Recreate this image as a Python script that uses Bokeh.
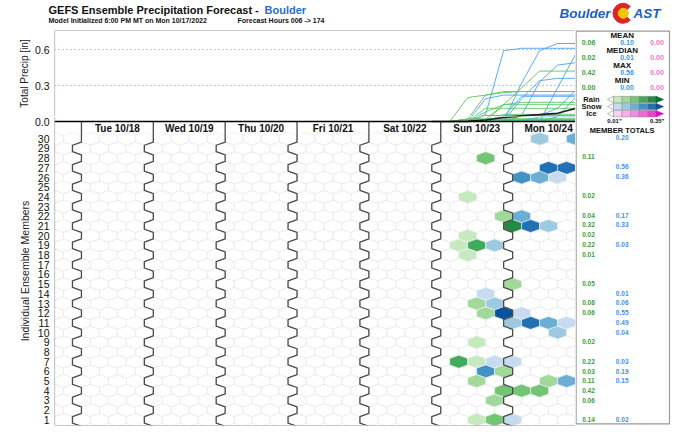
import numpy as np
from bokeh.plotting import figure
from bokeh.layouts import column, row
from bokeh.models import Range1d, FixedTicker, PrintfTickFormatter, Span, CustomJSTickFormatter
from bokeh.core.properties import value
from bokeh.embed import file_html
from bokeh.resources import INLINE

FONT = "Liberation Sans"

# ---------------- data ----------------
title_main = "GEFS Ensemble Precipitation Forecast -"
title_loc = "Boulder"
subtitle_left = "Model Initialized 6:00 PM MT on Mon 10/17/2022"
subtitle_right = "Forecast Hours 006 -> 174"

members = list(range(1, 31))
valid_hours = list(range(6, 175, 6))
day_labels = ["Tue 10/18", "Wed 10/19", "Thu 10/20", "Fri 10/21",
              "Sat 10/22", "Sun 10/23", "Mon 10/24"]
day_start_hours = [6, 30, 54, 78, 102, 126, 150]

# 6-hourly precipitation cells: member, valid hour, type, amount [in]
hex_member = [30, 30, 28, 27, 27, 26, 26, 26, 24, 22, 22, 21, 21, 21, 20,
              19, 19, 19, 18, 15, 14, 13, 13, 12, 12, 12, 11, 11, 11, 11,
              10, 9, 7, 7, 7, 7, 6, 6, 5, 5, 5, 4, 4, 4, 3, 1, 1, 1]
hex_hour = [162, 174, 144, 168, 174, 156, 162, 168, 138, 150, 156, 156, 162, 168, 138,
            138, 144, 150, 138, 156, 144, 144, 150, 144, 150, 156, 156, 162, 168, 174,
            168, 144, 138, 144, 150, 156, 144, 150, 144, 168, 174, 150, 156, 162, 150,
            144, 150, 156]
hex_type = ["snow", "snow", "rain", "snow", "snow", "snow", "snow", "snow", "rain", "rain",
            "snow", "rain", "snow", "snow", "rain", "rain", "rain", "snow", "rain", "rain",
            "snow", "rain", "snow", "rain", "snow", "snow", "snow", "snow", "snow", "snow",
            "snow", "rain", "rain", "rain", "snow", "snow", "snow", "rain", "rain", "rain",
            "snow", "rain", "rain", "rain", "rain", "rain", "rain", "snow"]
hex_amount = [0.04, 0.16, 0.11, 0.28, 0.28, 0.19, 0.15, 0.02, 0.02, 0.04,
              0.17, 0.32, 0.27, 0.06, 0.02, 0.02, 0.20, 0.03, 0.01, 0.05,
              0.01, 0.08, 0.06, 0.06, 0.53, 0.02, 0.05, 0.28, 0.14, 0.02,
              0.04, 0.02, 0.20, 0.02, 0.02, 0.01, 0.19, 0.03, 0.05, 0.06,
              0.15, 0.14, 0.14, 0.14, 0.06, 0.02, 0.12, 0.02]

# member totals (members 1..30), 0 = blank
rain_totals = [0.14, 0, 0.06, 0.42, 0.11, 0.03, 0.22, 0, 0.02, 0,
               0, 0.06, 0.08, 0, 0.05, 0, 0, 0.01, 0.22, 0.02,
               0.32, 0.04, 0, 0.02, 0, 0, 0, 0.11, 0, 0]
snow_totals = [0.02, 0, 0, 0, 0.15, 0.19, 0.03, 0, 0, 0.04,
               0.49, 0.55, 0.06, 0.01, 0, 0, 0, 0, 0.03, 0,
               0.33, 0.17, 0, 0, 0, 0.36, 0.56, 0, 0, 0.20]

stat_names = ["MEAN", "MEDIAN", "MAX", "MIN"]
stat_rain = [0.06, 0.02, 0.42, 0.00]
stat_snow = [0.10, 0.01, 0.56, 0.00]
stat_ice = [0.00, 0.00, 0.00, 0.00]

ref_hours = [126, 132, 138, 144, 150, 156, 162, 168, 174]
ref_values = [0.0, 0.0, 0.001, 0.012, 0.033, 0.047, 0.057, 0.068, 0.108]

precip_ticks = [0.3, 0.6]
grid_ticks = [0.3, 0.6]
bin_edges = [0.01, 0.025, 0.09, 0.18, 0.25, 0.35]
legend_types = ["Rain", "Snow", "Ice"]
legend_ticks = ['0.01"', '0.35"']

rain_colors = ["#c7e9c0", "#a1d99b", "#74c476", "#41ab5d", "#238b45", "#006d2c"]
snow_colors = ["#c6dbef", "#9ecae1", "#6baed6", "#4292c6", "#2171b5", "#08519c"]
ice_colors = ["#fbd0f3", "#f8b0ec", "#f48de4", "#ef69da", "#e845d0", "#e010c8"]

GREEN_TXT = "#36a336"
BLUE_TXT = "#3d93ee"
PINK_TXT = "#f277c8"
LINE_BLUE = "#4aa3f0"
LINE_GREEN = "#5cc85c"

# ---------------- geometry ----------------
PX_ROW = 9.69          # pixels per ensemble member row
PX_IN = 120.0          # pixels per inch of precip
ZERO_PX = 121          # page y of the 0.0 line
SPLIT_PX = 116         # page y where the top canvas ends
HEAD_H = 28
BOTTOM_PX = 425
Y_ZERO = 30 + (138.3 - ZERO_PX) / PX_ROW       # member units at the 0.0 line
HEX_TOP = Y_ZERO + (ZERO_PX - SPLIT_PX) / PX_ROW
Y_BOT = Y_ZERO - (BOTTOM_PX - ZERO_PX) / PX_ROW
TOP_FRAME_H = SPLIT_PX - 30
HEX_FRAME_H = BOTTOM_PX - SPLIT_PX
HEX_HW = 3.0
HEX_R = 2.0 / 3.0

x_range = Range1d(0, 174)


def hex_xy(cx, cy):
    return ([cx, cx + HEX_HW, cx + HEX_HW, cx, cx - HEX_HW, cx - HEX_HW],
            [cy + HEX_R, cy + HEX_R / 2, cy - HEX_R / 2, cy - HEX_R, cy - HEX_R / 2, cy + HEX_R / 2])


def row_shift(m):
    return -HEX_HW * (m % 2)


def style_axis(ax, label):
    ax.axis_label = label
    ax.axis_line_color = None
    ax.major_tick_line_color = None
    ax.minor_tick_line_color = None
    ax.major_tick_out = 0
    ax.major_tick_in = 0
    ax.minor_tick_out = 0
    ax.minor_tick_in = 0
    ax.major_label_text_font = FONT
    ax.major_label_text_font_size = "10.5px"
    ax.major_label_text_color = "#111111"
    ax.major_label_standoff = 5
    ax.axis_label_text_font = FONT
    ax.axis_label_text_font_style = "normal"
    ax.axis_label_text_font_size = "10.5px"
    ax.axis_label_text_color = "#222222"
    ax.axis_label_standoff = 2


# ---------------- header ----------------
head = figure(width=676, height=HEAD_H, x_range=Range1d(0, 676), y_range=Range1d(HEAD_H, 0),
              x_axis_type=None, y_axis_type=None, output_backend="svg",
              toolbar_location=None, title=None, min_border=0, outline_line_color=None)
head.grid.visible = False
head.text(x=[48], y=[9], text=[title_main], text_font=value(FONT), text_font_style="bold",
          text_font_size="11px", text_baseline="middle", text_align="left", text_color="#111111")
head.text(x=[264], y=[9], text=[title_loc], text_font=value(FONT), text_font_style="bold",
          text_font_size="11px", text_baseline="middle", text_align="left", text_color="#1f6fcf")
head.text(x=[48, 237], y=[19.5, 19.5], text=[subtitle_left, subtitle_right], text_font=value(FONT),
          text_font_style="bold", text_font_size="7px", text_baseline="middle", text_align="left",
          text_color="#111111")
head.text(x=[559], y=[13], text=["Boulder"], text_font=value(FONT), text_font_style="bold italic",
          text_font_size="13.5px", text_baseline="middle", text_align="left", text_color="#1d5fbf")
head.annular_wedge(x=[622.5], y=[12.8], inner_radius=4.8, outer_radius=10,
                   start_angle=0.75, end_angle=2 * np.pi - 0.75, color="#d9262c")
head.circle(x=[622.8], y=[12.8], radius=5, color="#f6c500")
head.text(x=[633], y=[13], text=["AST"], text_font=value(FONT), text_font_style="bold italic",
          text_font_size="13.5px", text_baseline="middle", text_align="left", text_color="#1d5fbf")

# ---------------- cumulative precip lines (data) ----------------
amt = np.zeros((len(members), len(valid_hours)))
rain_sum = np.zeros(len(members))
snow_sum = np.zeros(len(members))
for m, h, t, a in zip(hex_member, hex_hour, hex_type, hex_amount):
    amt[m - 1, valid_hours.index(h)] += a
    if t == "rain":
        rain_sum[m - 1] += a
    else:
        snow_sum[m - 1] += a
cum = amt.cumsum(axis=1)
line_cols = [LINE_BLUE if snow_sum[i] > rain_sum[i] else LINE_GREEN for i in range(len(members))]
line_xs = [valid_hours] * len(members)
line_ys = [list(c) for c in cum]

# ---------------- top: cumulative precip ----------------
p_lo = (ZERO_PX - SPLIT_PX) / PX_IN
top = figure(width=575, height=TOP_FRAME_H + 2, x_range=x_range,
             y_range=Range1d(p_lo, p_lo + TOP_FRAME_H / PX_IN),
             x_axis_type=None, output_backend="svg", toolbar_location=None, title=None,
             min_border_left=54, min_border_right=0, min_border_top=2, min_border_bottom=0,
             outline_line_color=None)
top.xgrid.visible = False
top.ygrid.ticker = FixedTicker(ticks=grid_ticks)
top.ygrid.grid_line_dash = "1 3"
top.ygrid.grid_line_color = "#8c8c8c"
top.yaxis.ticker = FixedTicker(ticks=precip_ticks)
top.yaxis.formatter = PrintfTickFormatter(format="%.1f")
style_axis(top.yaxis[0], "Total Precip [in]")
top.yaxis.axis_label_text_font_size = "10px"
top.multi_line(xs=line_xs, ys=line_ys, line_color=line_cols, line_width=1, line_alpha=0.9)
top.line(ref_hours, ref_values, line_color="#222222", line_width=1.6)
top.add_layout(Span(location=0, dimension="height", line_color="#9a9a9a", line_width=1.2))
top.add_layout(Span(location=top.y_range.end, dimension="width", line_color="#9a9a9a", line_width=1.2))

# ---------------- hex grid ----------------
hexf = figure(width=575, height=HEX_FRAME_H + 9, x_range=x_range, y_range=Range1d(Y_BOT, HEX_TOP),
              x_axis_type=None, output_backend="svg", toolbar_location=None, title=None,
              min_border_left=54, min_border_right=0, min_border_top=0, min_border_bottom=9,
              outline_line_color=None)
hexf.extra_y_ranges = {"precip": Range1d(-(BOTTOM_PX - ZERO_PX) / PX_IN, p_lo)}
hexf.grid.visible = False
hexf.yaxis.ticker = FixedTicker(ticks=members + [Y_ZERO])
hexf.yaxis.formatter = CustomJSTickFormatter(code="return tick > 30.5 ? '0.0' : tick.toFixed(0);")
style_axis(hexf.yaxis[0], "Individual Ensemble Members")
hexf.yaxis.axis_label_standoff = 1

bg_xs, bg_ys = [], []
for m in members:
    for h in range(0, 181, 6):
        xs, ys = hex_xy(h + row_shift(m), m)
        bg_xs.append(xs)
        bg_ys.append(ys)
hexf.patches(bg_xs, bg_ys, fill_color=None, line_color="#ebebeb", line_width=0.7)

lv = np.searchsorted(bin_edges, np.array(hex_amount) + 1e-9, side="right") - 1
lv = np.clip(lv, 0, 5)
c_xs, c_ys, c_cols = [], [], []
for m, h, t, k in zip(hex_member, hex_hour, hex_type, lv):
    xs, ys = hex_xy(h + row_shift(m), m)
    c_xs.append(xs)
    c_ys.append(ys)
    c_cols.append(rain_colors[k] if t == "rain" else snow_colors[k])
hexf.patches(c_xs, c_ys, fill_color=c_cols, line_color="#ffffff", line_width=0.5)

div_xs, div_ys = [], []
for d0 in day_start_hours:
    xe, xo = d0 + HEX_HW, d0
    xs, ys = [xe], [Y_ZERO]
    for m in range(len(members), -1, -1):
        x = xe if m % 2 == 0 else xo
        xs += [x, x]
        ys += [m + HEX_R / 2, m - HEX_R / 2]
    div_xs.append(xs)
    div_ys.append(ys)
hexf.multi_line(div_xs, div_ys, line_color="#4a4a4a", line_width=1.3)

hexf.text(x=[d0 + 15 for d0 in day_start_hours], y=[Y_ZERO - 7 / PX_ROW] * len(day_labels),
          text=day_labels, text_font=value(FONT), text_font_style="bold", text_font_size="10px",
          text_align="center", text_baseline="middle", text_color="#111111")

# lower strip of the precip panel (continues the top chart down to 0.0)
hexf.multi_line(xs=line_xs, ys=line_ys, line_color=line_cols, line_width=1, line_alpha=0.9,
                y_range_name="precip")
hexf.line(ref_hours, ref_values, line_color="#222222", line_width=1.6, y_range_name="precip")
hexf.add_layout(Span(location=0, dimension="width", line_color="#000000", line_width=1.3,
                     y_range_name="precip"))
hexf.add_layout(Span(location=0, dimension="height", line_color="#9a9a9a", line_width=1.2))
hexf.add_layout(Span(location=Y_BOT, dimension="width", line_color="#9a9a9a", line_width=1.2))

# ---------------- right panel ----------------
panel = figure(width=101, height=434 - HEAD_H, x_range=Range1d(575, 676),
               y_range=Range1d(Y_BOT - (434 - BOTTOM_PX) / PX_ROW, Y_ZERO + (ZERO_PX - 30) / PX_ROW),
               x_axis_type=None, y_axis_type=None, output_backend="svg", toolbar_location=None,
               title=None, min_border_left=0, min_border_right=0, min_border_top=0,
               min_border_bottom=0, outline_line_color=None)
panel.extra_y_ranges = {"px": Range1d(434, HEAD_H)}
panel.grid.visible = False
panel.quad(left=[575.6], right=[669], top=[30.6], bottom=[423.4], fill_color=None,
           line_color="#9a9a9a", line_width=1.2, y_range_name="px")

stat_y = [34.5 + 15.1 * i for i in range(len(stat_names))]
panel.text(x=[621.7] * len(stat_names), y=stat_y, text=stat_names, text_font=value(FONT),
           text_font_style="bold", text_font_size="8px", text_align="center",
           text_baseline="middle", text_color="#111111", y_range_name="px")
val_y = [y + 7.3 for y in stat_y]
for xs_, vals, col in [(588, stat_rain, GREEN_TXT), (626.5, stat_snow, BLUE_TXT), (656.5, stat_ice, PINK_TXT)]:
    panel.text(x=[xs_] * len(vals), y=val_y, text=["%.2f" % v for v in vals], text_font=value(FONT),
               text_font_style="bold", text_font_size="7px", text_align="center",
               text_baseline="middle", text_color=col, y_range_name="px")

leg_y = [99 + 7.1 * i for i in range(3)]
panel.text(x=[591] * 3, y=leg_y, text=legend_types, text_font=value(FONT), text_font_style="bold",
           text_font_size="7.5px", text_align="center", text_baseline="middle",
           text_color="#111111", y_range_name="px")
box_w = 8.5
for yc, pal in zip(leg_y, [rain_colors, snow_colors, ice_colors]):
    panel.patch([607, 613, 613], [yc, yc - 3.2, yc + 3.2], fill_color="#ffffff", line_color="#888888",
                line_width=0.6, y_range_name="px")
    lefts = [613 + box_w * i for i in range(5)]
    panel.quad(left=lefts, right=[l + box_w for l in lefts], top=[yc - 3.2] * 5, bottom=[yc + 3.2] * 5,
               fill_color=pal[:5], line_color="#8a8a8a", line_width=0.5, y_range_name="px")
    panel.patch([655.5, 663, 655.5], [yc - 3.2, yc, yc + 3.2], fill_color=pal[5], line_color=pal[5],
                line_width=0.6, y_range_name="px")
panel.text(x=[614, 656.7], y=[120.8, 120.8], text=legend_ticks, text_font=value(FONT),
           text_font_style="bold", text_font_size="6px", text_align="center", text_baseline="middle",
           text_color="#111111", y_range_name="px")
panel.text(x=[621.7], y=[130.2], text=["MEMBER TOTALS"], text_font=value(FONT), text_font_style="bold",
           text_font_size="7.5px", text_align="center", text_baseline="middle", text_color="#111111",
           y_range_name="px")

rm = [m for m, v in zip(members, rain_totals) if v > 0]
rv = ["%.2f" % v for v in rain_totals if v > 0]
sm = [m for m, v in zip(members, snow_totals) if v > 0]
sv = ["%.2f" % v for v in snow_totals if v > 0]
panel.text(x=[588] * len(rm), y=rm, text=rv, text_font=value(FONT), text_font_style="bold",
           text_font_size="6.5px", text_align="center", text_baseline="middle", text_color=GREEN_TXT)
panel.text(x=[621.7] * len(sm), y=sm, text=sv, text_font=value(FONT), text_font_style="bold",
           text_font_size="6.5px", text_align="center", text_baseline="middle", text_color=BLUE_TXT)

layout = column(head, row(column(top, hexf), panel))
open("out.html", "w").write(file_html(layout, INLINE))
